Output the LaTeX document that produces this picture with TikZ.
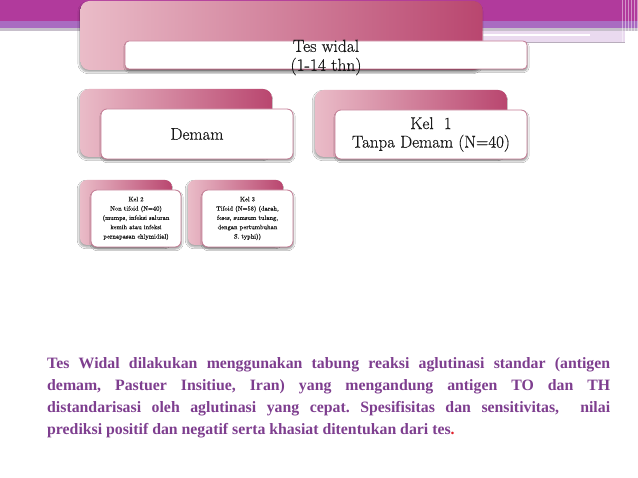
\documentclass[tikz,border=0pt]{standalone}
\usepackage{fontspec}
\newfontfamily\parafont{Liberation Serif}
\newfontfamily\smallfont{lmroman10-regular}[Extension=.otf, FakeBold=0.7]
\newfontfamily\boxfont{Latin Modern Roman}[FakeBold=0.35]
\usetikzlibrary{shadows.blur}
\definecolor{hdrmag}{HTML}{B13A9C}
\definecolor{hdrlav}{HTML}{A96BC1}
\definecolor{hdrgray}{HTML}{9A8AA0}
\definecolor{pinkL}{HTML}{EABCC8}
\definecolor{pinkD}{HTML}{B9466F}
\definecolor{frameP}{HTML}{C47C95}
\definecolor{paraP}{HTML}{7E3E8F}
\definecolor{dotred}{HTML}{E0202A}
\begin{document}
\begin{tikzpicture}[x=1pt,y=-1pt,
  backbox/.style={rectangle, rounded corners=9pt, left color=pinkL, right color=pinkD,
    inner sep=0pt, blur shadow={shadow xshift=-1pt, shadow yshift=-2pt, shadow blur steps=6, shadow opacity=35}},
  frontbox/.style={rectangle, rounded corners=6pt, fill=white, draw=frameP, line width=0.8pt,
    inner sep=0pt, align=center, text=black!90,
    blur shadow={shadow xshift=0.5pt, shadow yshift=-2pt, shadow blur steps=5, shadow opacity=40}},
  smallback/.style={backbox, rounded corners=7pt},
  smallfront/.style={frontbox, rounded corners=6pt, font=\smallfont\fontsize{6.4}{9.3}\selectfont},
  bigfont/.style={font=\boxfont\fontsize{17}{18.5}\selectfont}
]
\useasboundingbox (0,0) rectangle (638,478);
\fill[white] (0,0) rectangle (638,478);
% header bands
\fill[hdrmag] (0,0) rectangle (638,21);
\fill[hdrlav] (0,21) rectangle (638,28);
\fill[hdrgray!55] (0,28) rectangle (638,31);
\fill[hdrlav!25] (483,31) rectangle (625,42);
\draw[white, line width=1.3pt] (483,35) -- (590,35);
\draw[hdrgray!70, line width=0.8pt] (483,42) -- (625,42);
\foreach \xx in {622,625,628,631,634,637}
  \draw[white, opacity=0.45, line width=0.9pt] (\xx,0) -- (\xx,42);
% top boxes
\node[backbox, minimum width=402pt, minimum height=69pt] (topback) at (281.5,35.5) {};
\node[frontbox, rounded corners=4pt, minimum width=402pt, minimum height=28pt] (topfront) at (326,55) {};
\node[align=center, text=black!90, inner sep=0pt, font=\boxfont\fontsize{17.5}{19}\selectfont] (toptext) at (326,57.5) {Tes widal\\(1-14 thn)};
% Demam
\node[backbox, minimum width=192pt, minimum height=68pt] (demamback) at (176,123) {};
\node[frontbox, bigfont, minimum width=192pt, minimum height=50pt] (demam) at (197,134) {Demam};
% Kel 1
\node[backbox, minimum width=192pt, minimum height=67pt] (kelback) at (411,123.5) {};
\node[frontbox, bigfont, minimum width=192pt, minimum height=49pt] (kel1) at (431,134.5) {Kel\ \ 1\\Tanpa Demam (N=40)};
% Kel 2
\node[smallback, minimum width=92pt, minimum height=65pt] (kel2back) at (126,212.5) {};
\node[smallfront, minimum width=90pt, minimum height=57pt] (kel2) at (136,218.5)
  {Kel 2\\Non tifoid (N=40)\\(mumps, infeksi saluran\\kemih atau infeksi\\pernapasan chlymidial)};
% Kel 3
\node[smallback, minimum width=95pt, minimum height=65pt] (kel3back) at (235.5,212.5) {};
\node[smallfront, minimum width=91pt, minimum height=57pt] (kel3) at (247.5,218.5)
  {Kel 3\\Tifoid (N=58) (darah,\\feses, sumsum tulang,\\dengan pertumbuhan\\S. typhi))};
% paragraph
\node[anchor=north west, inner sep=0pt, text=paraP,
  font=\parafont\bfseries\fontsize{15.8}{22}\selectfont] (para) at (47,357)
  {\parbox[t]{563pt}{\tolerance=9999\relax\hyphenpenalty=10000\relax\frenchspacing
   Tes Widal dilakukan menggunakan tabung reaksi aglutinasi standar (antigen\linebreak
   demam, Pastuer Insitiue, Iran) yang mengandung antigen TO dan TH\linebreak
   distandarisasi oleh aglutinasi yang cepat. Spesifisitas dan sensitivitas,\ \ nilai\linebreak
   prediksi positif dan negatif serta khasiat ditentukan dari tes\textcolor{dotred}{.}}};
\end{tikzpicture}
\end{document}
